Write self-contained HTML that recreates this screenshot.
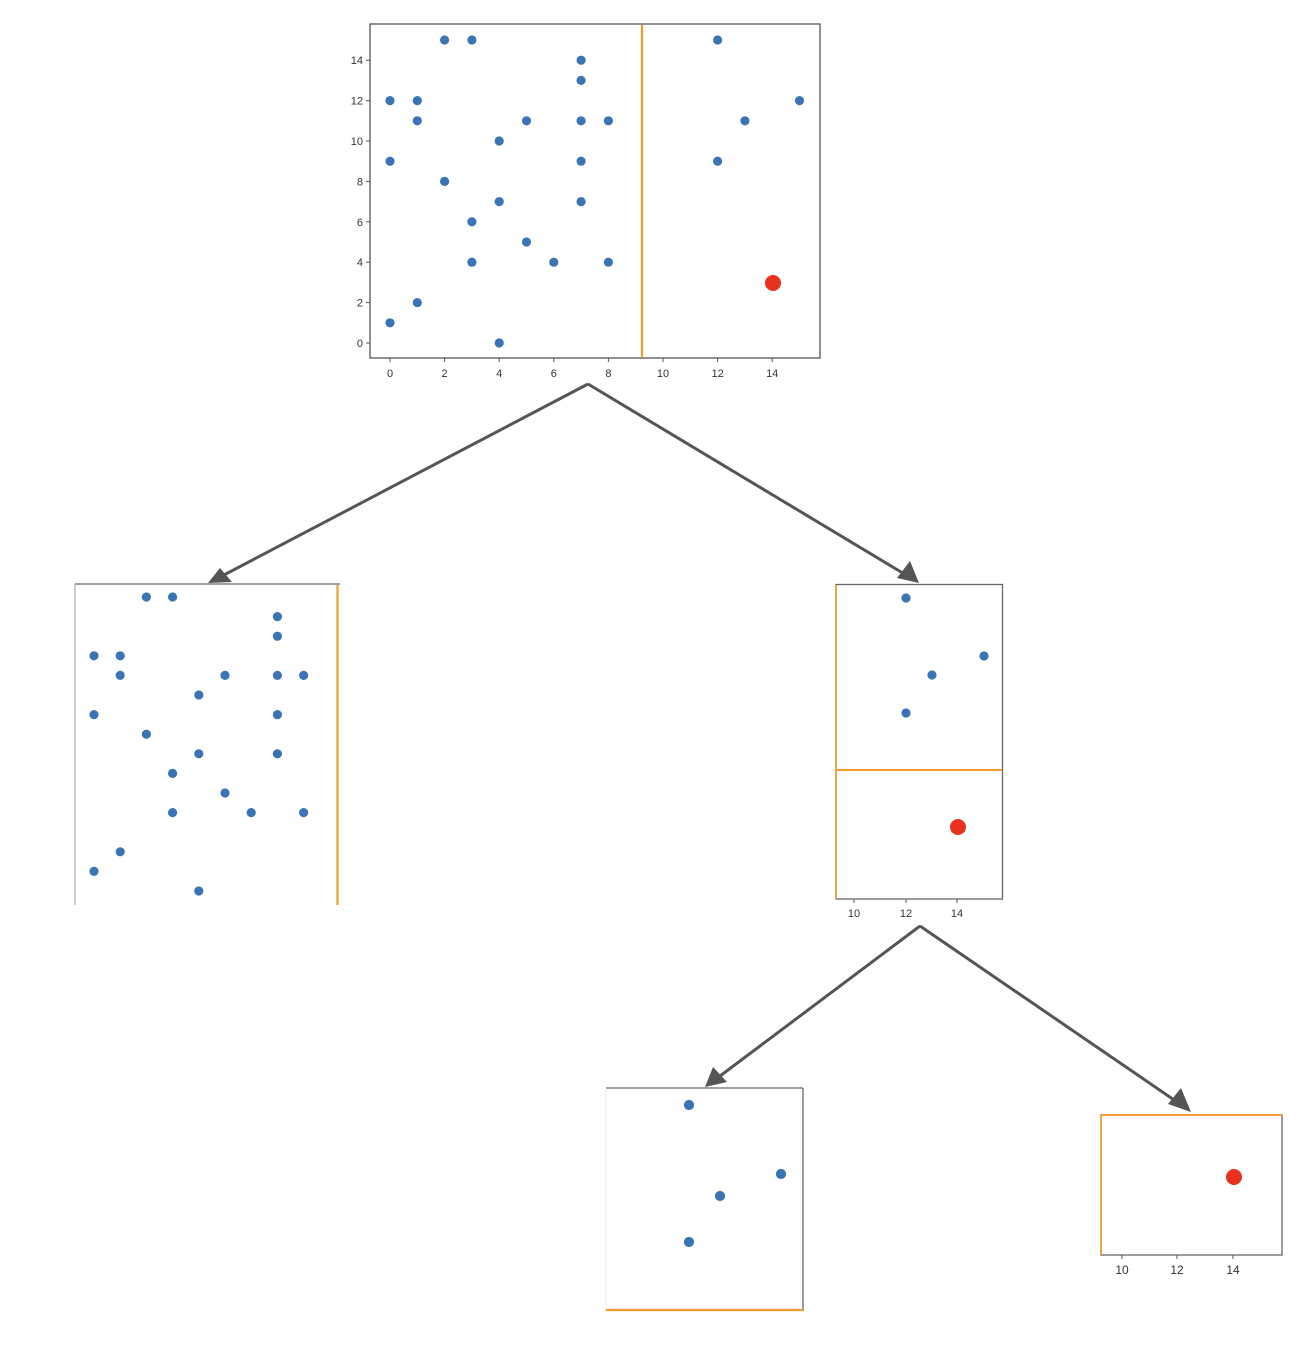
<!DOCTYPE html>
<html><head><meta charset="utf-8"><style>body{margin:0;background:#fff}svg{display:block}</style></head>
<body>
<svg width="1314" height="1346" viewBox="0 0 1314 1346" xmlns="http://www.w3.org/2000/svg" font-family="Liberation Sans, DejaVu Sans, sans-serif" font-size="11" fill="#333">
<defs>
<marker id="ah" markerWidth="8" markerHeight="8" refX="7" refY="4" orient="auto" markerUnits="userSpaceOnUse" viewBox="0 0 8 8"><path d="M0,0 L8,4 L0,8 z" fill="#555"/></marker>
</defs>
<!-- TOP PLOT -->
<rect x="370" y="24" width="450" height="334" fill="#fff" stroke="#555" stroke-width="1.3"/>
<g stroke="#555" stroke-width="1">
<line x1="366" y1="343" x2="370" y2="343"/><line x1="366" y1="302.6" x2="370" y2="302.6"/><line x1="366" y1="262.2" x2="370" y2="262.2"/><line x1="366" y1="221.8" x2="370" y2="221.8"/><line x1="366" y1="181.4" x2="370" y2="181.4"/><line x1="366" y1="141" x2="370" y2="141"/><line x1="366" y1="100.6" x2="370" y2="100.6"/><line x1="366" y1="60.2" x2="370" y2="60.2"/>
<line x1="390" y1="358" x2="390" y2="362"/><line x1="444.6" y1="358" x2="444.6" y2="362"/><line x1="499.2" y1="358" x2="499.2" y2="362"/><line x1="553.8" y1="358" x2="553.8" y2="362"/><line x1="608.4" y1="358" x2="608.4" y2="362"/><line x1="663" y1="358" x2="663" y2="362"/><line x1="717.6" y1="358" x2="717.6" y2="362"/><line x1="772.2" y1="358" x2="772.2" y2="362"/>
</g>
<g text-anchor="end">
<text x="363" y="347">0</text><text x="363" y="306.6">2</text><text x="363" y="266.2">4</text><text x="363" y="225.8">6</text><text x="363" y="185.4">8</text><text x="363" y="145">10</text><text x="363" y="104.6">12</text><text x="363" y="64.2">14</text>
</g>
<g text-anchor="middle">
<text x="390" y="377">0</text><text x="444.6" y="377">2</text><text x="499.2" y="377">4</text><text x="553.8" y="377">6</text><text x="608.4" y="377">8</text><text x="663" y="377">10</text><text x="717.6" y="377">12</text><text x="772.2" y="377">14</text>
</g>
<line x1="642" y1="25" x2="642" y2="357" stroke="#f39c2b" stroke-width="2.2"/>
<g fill="#3a74b4" stroke="#fff" stroke-width="0.8">
<circle cx="444.6" cy="40" r="5"/><circle cx="471.9" cy="40" r="5"/><circle cx="581.1" cy="60.2" r="5"/><circle cx="581.1" cy="80.4" r="5"/><circle cx="390" cy="100.6" r="5"/><circle cx="417.3" cy="100.6" r="5"/><circle cx="417.3" cy="120.8" r="5"/><circle cx="526.5" cy="120.8" r="5"/><circle cx="581.1" cy="120.8" r="5"/><circle cx="608.4" cy="120.8" r="5"/><circle cx="499.2" cy="141" r="5"/><circle cx="390" cy="161.2" r="5"/><circle cx="581.1" cy="161.2" r="5"/><circle cx="444.6" cy="181.4" r="5"/><circle cx="499.2" cy="201.6" r="5"/><circle cx="581.1" cy="201.6" r="5"/><circle cx="471.9" cy="221.8" r="5"/><circle cx="526.5" cy="242" r="5"/><circle cx="471.9" cy="262.2" r="5"/><circle cx="553.8" cy="262.2" r="5"/><circle cx="608.4" cy="262.2" r="5"/><circle cx="417.3" cy="302.6" r="5"/><circle cx="390" cy="322.8" r="5"/><circle cx="499.2" cy="343" r="5"/><circle cx="717.6" cy="40" r="5"/><circle cx="799.5" cy="100.6" r="5"/><circle cx="744.9" cy="120.8" r="5"/><circle cx="717.6" cy="161.2" r="5"/>
</g>
<circle cx="773" cy="283" r="8" fill="#e8321f"/>

<!-- ARROWS -->
<g stroke="#555" stroke-width="3" fill="none">
<line x1="588" y1="384" x2="222" y2="576"/>
<line x1="588" y1="384" x2="906" y2="575"/>
<line x1="920" y1="926" x2="716" y2="1079"/>
<line x1="920" y1="926" x2="1180" y2="1104"/>
</g>
<g fill="#555">
<polygon points="208,583 220,568 232,582"/>
<polygon points="919,583 897,578 910,561"/>
<polygon points="705,1087 713,1067 727,1082"/>
<polygon points="1191,1112 1168,1104 1181,1088"/>
</g>

<!-- LEFT CHILD -->
<line x1="75" y1="584" x2="340" y2="584" stroke="#666" stroke-width="1.3"/>
<line x1="75" y1="584" x2="75" y2="905" stroke="#999" stroke-width="1"/>
<line x1="337.5" y1="585" x2="337.5" y2="905" stroke="#f39c2b" stroke-width="2.2"/>
<g fill="#3a74b4" stroke="#fff" stroke-width="0.8">
<circle cx="146.4" cy="597" r="5"/><circle cx="172.6" cy="597" r="5"/><circle cx="277.4" cy="616.6" r="5"/><circle cx="277.4" cy="636.2" r="5"/><circle cx="94" cy="655.8" r="5"/><circle cx="120.2" cy="655.8" r="5"/><circle cx="120.2" cy="675.4" r="5"/><circle cx="225" cy="675.4" r="5"/><circle cx="277.4" cy="675.4" r="5"/><circle cx="303.6" cy="675.4" r="5"/><circle cx="198.8" cy="695" r="5"/><circle cx="94" cy="714.6" r="5"/><circle cx="277.4" cy="714.6" r="5"/><circle cx="146.4" cy="734.2" r="5"/><circle cx="198.8" cy="753.8" r="5"/><circle cx="277.4" cy="753.8" r="5"/><circle cx="172.6" cy="773.4" r="5"/><circle cx="225" cy="793" r="5"/><circle cx="172.6" cy="812.6" r="5"/><circle cx="251.2" cy="812.6" r="5"/><circle cx="303.6" cy="812.6" r="5"/><circle cx="120.2" cy="851.8" r="5"/><circle cx="94" cy="871.4" r="5"/><circle cx="198.8" cy="891" r="5"/>
</g>

<!-- RIGHT CHILD -->
<rect x="836" y="584.5" width="166.5" height="314.5" fill="#fff" stroke="#666" stroke-width="1.3"/>
<line x1="836" y1="585" x2="836" y2="899" stroke="#f39c2b" stroke-width="1.6"/>
<line x1="836" y1="770" x2="1002" y2="770" stroke="#f39c2b" stroke-width="2"/>
<g fill="#3a74b4" stroke="#fff" stroke-width="0.8">
<circle cx="906" cy="598" r="5"/><circle cx="984" cy="656" r="5"/><circle cx="932" cy="675" r="5"/><circle cx="906" cy="713" r="5"/>
</g>
<circle cx="958" cy="827" r="8" fill="#e8321f"/>
<g stroke="#555"><line x1="854" y1="899" x2="854" y2="903"/><line x1="906" y1="899" x2="906" y2="903"/><line x1="957" y1="899" x2="957" y2="903"/></g>
<g text-anchor="middle"><text x="854" y="917">10</text><text x="906" y="917">12</text><text x="957" y="917">14</text></g>

<!-- BOTTOM LEFT -->
<line x1="606" y1="1088" x2="803" y2="1088" stroke="#666" stroke-width="1.3"/>
<line x1="803" y1="1088" x2="803" y2="1311" stroke="#666" stroke-width="1.3"/>
<line x1="606" y1="1088" x2="606" y2="1311" stroke="#f7e8d8" stroke-width="1"/>
<line x1="606" y1="1310" x2="803" y2="1310" stroke="#f39c2b" stroke-width="2.2"/>
<g fill="#3a74b4" stroke="#fff" stroke-width="0.8">
<circle cx="689" cy="1105" r="5.5"/><circle cx="781" cy="1174" r="5.5"/><circle cx="720" cy="1196" r="5.5"/><circle cx="689" cy="1242" r="5.5"/>
</g>

<!-- BOTTOM RIGHT -->
<rect x="1101" y="1115" width="181" height="140" fill="#fff" stroke="#666" stroke-width="1.3"/>
<line x1="1101" y1="1115" x2="1282" y2="1115" stroke="#f39c2b" stroke-width="2"/>
<line x1="1101" y1="1115" x2="1101" y2="1255" stroke="#f39c2b" stroke-width="1.6"/>
<circle cx="1234" cy="1177" r="8" fill="#e8321f"/>
<g stroke="#555"><line x1="1122" y1="1255" x2="1122" y2="1259"/><line x1="1177" y1="1255" x2="1177" y2="1259"/><line x1="1233" y1="1255" x2="1233" y2="1259"/></g>
<g text-anchor="middle" font-size="12"><text x="1122" y="1274">10</text><text x="1177" y="1274">12</text><text x="1233" y="1274">14</text></g>
</svg>
</body></html>
